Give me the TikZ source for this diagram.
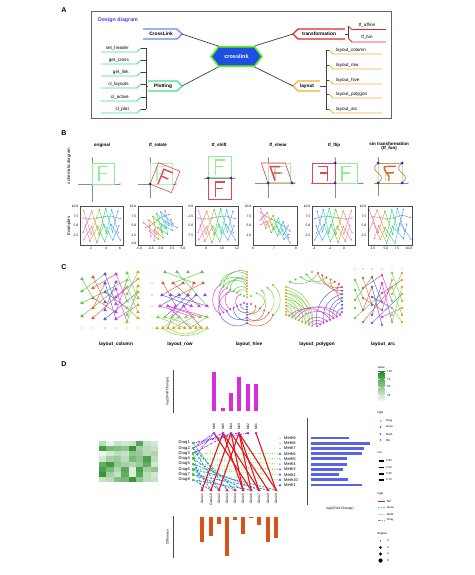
\documentclass[tikz,border=0pt]{standalone}
\usepackage{fontspec}
\setmainfont{Liberation Sans}
\usetikzlibrary{shapes.geometric,shapes.symbols,arrows.meta,calc}
\definecolor{hubblue}{HTML}{1F4FE0}
\definecolor{hubgreen}{HTML}{66EE22}
\definecolor{clblue}{HTML}{6E86F2}
\definecolor{plgreen}{HTML}{3FE08A}
\definecolor{trred}{HTML}{E3262E}
\definecolor{lyorange}{HTML}{EDB32C}
\definecolor{ddpurple}{HTML}{6236F0}
\definecolor{fgreen}{HTML}{96EC96}
\definecolor{fred}{HTML}{E2465A}
\definecolor{fsin}{HTML}{E0643A}
\definecolor{dotblue}{HTML}{2424D0}
\definecolor{eA}{HTML}{F2609E}
\definecolor{eB}{HTML}{D4902C}
\definecolor{eC}{HTML}{38C838}
\definecolor{eD}{HTML}{22C4A6}
\definecolor{eE}{HTML}{3C96F0}
\definecolor{eF}{HTML}{9C6CF0}
\definecolor{cG}{HTML}{5CC64A}
\definecolor{cO}{HTML}{D9603A}
\definecolor{cB}{HTML}{5C5CDC}
\definecolor{cM}{HTML}{D43CD8}
\definecolor{cL}{HTML}{7CD23C}
\definecolor{cY}{HTML}{DCA628}
\definecolor{hgreen}{HTML}{1E8A1E}
\definecolor{dGreen}{HTML}{3CCB3C}
\definecolor{dRed}{HTML}{E21E1E}
\definecolor{dBlue}{HTML}{4848DE}
\definecolor{dPur}{HTML}{9440F0}
\definecolor{barmag}{HTML}{D82ED8}
\definecolor{barorg}{HTML}{D8521C}
\definecolor{barblue}{HTML}{5A62E8}
\definecolor{edRed}{HTML}{E4181C}
\definecolor{edBlue}{HTML}{3A8CD8}
\definecolor{edGreen}{HTML}{6ADC30}
\definecolor{edPur}{HTML}{8A48F0}
\newcommand\FS[1]{\fontsize{#1}{#1}\selectfont}
\newcommand\Fbox[2]{\draw[#1, line width=0.6pt] (0,0) rectangle (1,1);
  \draw[#2, line width=1.4pt] (0.32,0.12) -- (0.32,0.82) -- (0.74,0.82) (0.32,0.5) -- (0.66,0.5);}
\newcommand\Tri[3]{\fill[#3] (#1,#2) +(0,-2.1) -- +(1.85,1.1) -- +(-1.85,1.1) -- cycle;}
\newcommand\PatPts[2]{%
  \foreach \ga in {1,...,6}{\foreach \kk in {1,...,5}{%
    \pgfmathsetmacro\uu{0.09+0.164*(\ga-1)+0.03*sin(\kk*131+\ga*53)}%
    \pgfmathsetmacro\vv{0.1+0.2*(\kk-1)+0.035*sin(\ga*77+\kk*29)}%
    \coordinate (P-\ga-\kk) at ({\uu+#1*sin(720*\vv)},{\vv+#2*sin(540*\uu)});%
  }}}
\newcommand\PatDraw{%
  \foreach \ga/\gb/\cc in {1/2/eA,2/3/eB,3/4/eC,4/5/eD,5/6/eE}{%
    \foreach \kk/\pp in {1/3,2/5,3/1,4/4,5/2}{\draw[\cc, line width=0.35pt] (P-\ga-\kk) -- (P-\gb-\pp);}}%
  \foreach \ga/\cc in {1/eA,2/eB,3/eC,4/eD,5/eE,6/eF}{%
    \foreach \kk in {1,...,5}{\fill[\cc] (P-\ga-\kk) circle (0.75pt);}}}
\tikzset{
  panel/.style={font=\bfseries\FS{7}, inner sep=0pt},
  conn/.style={draw=black!75, line width=0.7pt},
  thin conn/.style={draw=black!75, line width=0.5pt},
  itemtxt/.style={font=\FS{4.6}, inner sep=0pt},
  tagtxt/.style={font=\bfseries\FS{4.8}, inner sep=0pt},
  ttl/.style={font=\bfseries\FS{4.5}, inner sep=0pt, align=center},
  ax/.style={black!45, line width=0.4pt, -{Stealth[length=1.6pt,width=1.4pt]}},
  tick/.style={font=\FS{3.3}, inner sep=0.5pt},
  pbox/.style={draw=black!70, line width=0.6pt},
  clab/.style={font=\bfseries\FS{4.8}, inner sep=0pt},
  dlab/.style={font=\FS{4.1}, inner sep=0pt},
  glab/.style={font=\FS{3.3}, inner sep=0pt},
  leg/.style={font=\FS{2.8}, inner sep=0pt, anchor=west},
  legt/.style={font=\FS{3}, inner sep=0pt, anchor=west},
}
\begin{document}
\begin{tikzpicture}[x=1pt,y=-1pt]
\useasboundingbox (0,0) rectangle (474,575);
\fill[white] (0,0) rectangle (474,575);
% ================= Panel A =================
\node[panel] (labA) at (64,10) {A};
\node[draw=black!60, line width=0.7pt, minimum width=300pt, minimum height=107pt, inner sep=0pt] (frameA) at (241.5,65) {};
\node[font=\bfseries\FS{5.3}, text=ddpurple, anchor=west, inner sep=0pt] (dd) at (98,20) {Design diagram};
\node[signal, signal to=east and west, signal pointer angle=105, fill=hubblue, draw=hubgreen, line width=1.6pt,
  minimum width=51pt, minimum height=19.5pt, text=white, font=\bfseries\FS{5.5}, inner sep=0pt] (hub) at (236.5,56.5) {crosslink};
\node[tagtxt] (tCL) at (161,34) {CrossLink};
\draw[clblue, line width=1.1pt] (143,29) -- (177,29) -- (182,34) -- (177,39) -- (143,39);
\coordinate (clTip) at (182,34);
\node[tagtxt] (tPL) at (163,86) {Plotting};
\draw[plgreen, line width=1.1pt] (148,81) -- (177,81) -- (182,86) -- (177,91) -- (148,91);
\coordinate (plTip) at (182,86);
\coordinate (plTail) at (148,86);
\node[tagtxt] (tTR) at (319,34) {transformation};
\draw[trred, line width=1.1pt] (345,29) -- (298,29) -- (293,34) -- (298,39) -- (345,39);
\coordinate (trTip) at (293,34);
\coordinate (trTail) at (345,34);
\node[tagtxt] (tLY) at (307,86) {layout};
\draw[lyorange, line width=1.1pt] (320,81) -- (298,81) -- (293,86) -- (298,91) -- (320,91);
\coordinate (lyTip) at (293,86);
\coordinate (lyTail) at (320,86);
\draw[conn] (clTip) -- (hub.150);
\draw[conn] (trTip) -- (hub.30);
\draw[conn] (plTip) -- (hub.210);
\draw[conn] (lyTip) -- (hub.330);
\foreach \t/\y [count=\i] in {set\_header/48,get\_cross/60,get\_link/72,cl\_layouts/84,cl\_active/97,cl\_plot/109}{
  \node[itemtxt, anchor=east] (pi\i) at (129,\y) {\t};
  \draw[plgreen, line width=0.8pt] (101,\y+4) -- (137,\y+4) -- (141,\y);
  \draw[thin conn] (141,\y) -- (146,\y);
}
\draw[thin conn] (146,48) -- (146,109);
\draw[thin conn] (146,86) -- (plTail);
\foreach \t/\y [count=\i] in {layout\_column/50,layout\_row/65,layout\_hive/80,layout\_polygon/94,layout\_arc/109}{
  \node[itemtxt, anchor=west] (li\i) at (336,\y) {\t};
  \draw[lyorange, line width=0.8pt] (329,\y) -- (333,\y+4) -- (382,\y+4);
  \draw[thin conn] (326,\y) -- (329,\y);
}
\draw[thin conn] (326,50) -- (326,109);
\draw[thin conn] (lyTail) -- (326,86);
\node[itemtxt] (tfa) at (367,25) {tf\_affine};
\node[itemtxt] (tff) at (367,37.5) {tf\_fun};
\draw[thin conn] (trTail) -- (348,34);
\draw[thin conn] (348,26) -- (348,38);
\draw[trred, line width=0.8pt] (348,26) -- (352,29.5) -- (386,29.5);
\draw[trred, line width=0.8pt] (348,38) -- (352,42) -- (386,42);
% ================= Panel B =================
\node[panel] (labB) at (64,133) {B};
\node[ttl] (t1) at (102,145) {original};
\node[ttl] (t2) at (158,145) {tf\_rotate};
\node[ttl] (t3) at (219,145) {tf\_shift};
\node[ttl] (t4) at (278,145) {tf\_shear};
\node[ttl] (t5) at (334,145) {tf\_flip};
\node[ttl] (t6) at (389,146.5) {sin transformation\\(tf\_fun)};
\node[font=\FS{4.3}, rotate=90, inner sep=0pt] (sdl) at (69,166) {schematic diagram};
\node[font=\FS{4.3}, rotate=90, inner sep=0pt] (exl) at (69,226) {Examples};
% original
\draw[ax] (92,202) -- (92,157);
\draw[ax] (78,184) -- (121,184);
\begin{scope}[shift={(92,184)}, x={(22pt,0pt)}, y={(0pt,21pt)}] \Fbox{fgreen}{fgreen} \end{scope}
% rotate
\draw[ax] (150,198) -- (150,157);
\draw[ax] (138,184) -- (177,184);
\begin{scope}[shift={(150,184)}, x={(22pt,0pt)}, y={(0pt,21pt)}] \Fbox{fgreen!70}{fgreen!70} \end{scope}
\begin{scope}[shift={(150,184)}, rotate=-22, x={(23pt,0pt)}, y={(0pt,23pt)}] \Fbox{fred}{fred} \end{scope}
\fill[dotblue] (150,184) circle (1.5pt);
% shift
\begin{scope}[shift={(208,177)}, x={(23pt,0pt)}, y={(0pt,20.5pt)}] \Fbox{fgreen}{fgreen} \end{scope}
\begin{scope}[shift={(208,199)}, x={(23pt,0pt)}, y={(0pt,20.5pt)}] \Fbox{fred}{fred} \end{scope}
\draw[ax] (204,178) -- (236,178);
\fill[dotblue] (208,178) circle (1.5pt) (231,178) circle (1.5pt);
% shear
\draw[ax] (268,198) -- (268,157);
\draw[ax] (255,183) -- (296,183);
\begin{scope}[shift={(268,183)}, x={(22pt,0pt)}, y={(0pt,20pt)}] \Fbox{fgreen!80}{fgreen!80} \end{scope}
\begin{scope}[shift={(268,183)}, cm={1,0,-0.33,1,(0,0)}, x={(24pt,0pt)}, y={(0pt,20pt)}] \Fbox{fred}{fred} \end{scope}
\fill[dotblue] (268,183) circle (1.5pt) (292,183) circle (1.5pt);
% flip
\draw[ax] (335,198) -- (335,157);
\draw[ax] (311,183) -- (364,183);
\begin{scope}[shift={(335,183)}, x={(22pt,0pt)}, y={(0pt,20pt)}] \Fbox{fgreen}{fgreen} \end{scope}
\begin{scope}[shift={(335,183)}, xscale=-1, x={(23pt,0pt)}, y={(0pt,20pt)}] \Fbox{fred}{fred} \end{scope}
\fill[dotblue] (335,163) circle (1.5pt) (335,183) circle (1.5pt);
% sin
\draw[ax] (378,196) -- (378,157);
\draw[ax] (374,183) -- (409,183);
\begin{scope}[shift={(378,183)}, x={(24pt,0pt)}, y={(0pt,20pt)}]
  \draw[fgreen!80, line width=0.6pt] (0,0) rectangle (1,1);
  \draw[fgreen!80, line width=1.3pt] (0.32,0.12) -- (0.32,0.82) -- (0.74,0.82) (0.32,0.5) -- (0.66,0.5);
  \draw[fsin, line width=0.6pt] plot[domain=0:1, samples=25, smooth] ({0.14*sin(360*\x)},\x);
  \draw[fsin, line width=0.6pt] plot[domain=0:1, samples=25, smooth] ({1+0.14*sin(360*\x)},\x);
  \draw[fsin!60!fgreen, line width=0.6pt] (0,0) -- (1,0) (0,1) -- (1,1);
  \draw[fsin, line width=1.4pt] plot[domain=0.12:0.82, samples=20, smooth] ({0.36+0.1*sin(360*\x)},\x) -- (0.74,0.84);
  \draw[fsin, line width=1.4pt] (0.36,0.5) -- (0.66,0.52);
\end{scope}
\fill[dotblue] (378,163) circle (1.5pt) (402,163) circle (1.5pt) (378,183) circle (1.5pt) (402,183) circle (1.5pt);
% examples
\begin{scope}[shift={(80,245)}, x={(43pt,0pt)}, y={(0pt,39pt)}] \PatPts{0}{0} \end{scope}
\PatDraw
\begin{scope}[shift={(160,225.5)}, rotate=30, scale=0.72, x={(43pt,0pt)}, y={(0pt,39pt)}, shift={(-0.5,-0.5)}] \PatPts{0}{0} \end{scope}
\PatDraw
\begin{scope}[shift={(195,245)}, x={(43pt,0pt)}, y={(0pt,39pt)}] \PatPts{0}{0} \end{scope}
\PatDraw
\begin{scope}[shift={(275,225.5)}, cm={0.8,-0.5,0,0.55,(0,0)}, x={(43pt,0pt)}, y={(0pt,39pt)}, shift={(-0.5,-0.5)}] \PatPts{0}{0} \end{scope}
\PatDraw
\begin{scope}[shift={(333.5,225.5)}, xscale=-1, x={(43pt,0pt)}, y={(0pt,39pt)}, shift={(-0.5,-0.5)}] \PatPts{0}{0} \end{scope}
\PatDraw
\begin{scope}[shift={(368,245)}, x={(43pt,0pt)}, y={(0pt,39pt)}] \PatPts{0.06}{0.05} \end{scope}
\PatDraw
\foreach \xl/\xr in {80/123,138/182,195/238,253/297,312/355,368/412}{\draw[pbox] (\xl,206) rectangle (\xr,245);}
\foreach \xb/\labs [count=\n] in {79/{10.0/206.5,7.5/216,5.0/225.5,2.5/235},137/{10.0/206.5,7.5/216,5.0/225.5,2.5/235,0.0/243.5},194/{0.0/206.5,-2.5/216,-5.0/225.5,-7.5/235},252/{10.0/206.5,7.5/216,5.0/225.5,2.5/235},311/{10.0/206.5,7.5/216,5.0/225.5,2.5/235},367/{10.0/206.5,7.5/216,5.0/225.5,2.5/235}}{
  \foreach \lab/\yy [count=\m] in \labs {\node[tick, anchor=east] (yt-\n-\m) at (\xb,\yy) {\lab};}}
\foreach \lab/\xx [count=\m] in {2/91,4/106,6/120,-5.0/139,-2.5/151,0.0/161,2.5/172,5.0/183,8/206,10/222,12/237,6/253,7/274,8/296,-4/314,-2/330,0/344,2.5/373,5.0/386,7.5/397,10.0/409}{
  \node[tick, anchor=north] (xt-\m) at (\xx,246.5) {\lab};}
% ================= Panel C =================
\node[panel] (labC) at (64,267) {C};
% layout_column
\foreach \xa/\ya/\xb/\yb/\cc in {82/279/93/298/cG,82/291/105/274/cG,82/316/116/289/cG,82/303/127/280/cG,
 93/277/105/302/cO,93/288/116/274/cO,93/308/105/283/cO,93/318/127/287/cO,93/298/116/312/cO,
 105/274/116/304/cB,105/292/127/308/cB,105/310/116/282/cB,105/319/138/292/cB,105/283/116/319/cB,
 116/274/127/301/cM,116/297/138/279/cM,116/312/127/280/cM,116/319/138/305/cM,116/289/127/322/cM,
 127/273/138/298/cL,127/294/138/272/cL,127/308/138/318/cL,127/322/138/286/cL,127/287/138/312/cL,127/315/138/292/cL}{
 \draw[\cc, line width=0.45pt] (\xa,\ya) -- (\xb,\yb);}
\foreach \yy in {279,291,303,316}{\Tri{82}{\yy}{cG}}
\foreach \yy in {277,288,298,308,318}{\Tri{93}{\yy}{cO}}
\foreach \yy in {274,283,292,302,310,319}{\Tri{105}{\yy}{cB}}
\foreach \yy in {274,282,289,297,304,312,319}{\Tri{116}{\yy}{cM}}
\foreach \yy in {273,280,287,294,301,308,315,322}{\Tri{127}{\yy}{cL}}
\foreach \yy in {272,279,286,292,298,305,312,318}{\Tri{138}{\yy}{cY}}
\foreach \xx/\cc in {82/cG,93/cO,105/cB,116/cM,127/cL,138/cY}{\fill[\cc] (\xx,328) circle (0.6pt);}
% layout_row
\foreach \xa/\ya/\xb/\yb/\cc in {165/272/194/283/cG,202/272/173/283/cG,177/272/207/306/cG,
 163/283/175.7/306/cO,173/283/199/306/cO,183/283/162/295/cO,194/283/188/295/cO,203/283/179/295/cO,
 162/295/191.3/306/cB,170.6/295/207/306/cB,179/295/160/306/cB,188/295/165/317/cB,196/295/172/317/cB,
 167.8/306/207/317/cM,167.8/306/200/317/cM,167.8/306/190.3/328/cM,175.7/306/168/328/cM,183.5/306/201.4/328/cM,160/306/193/317/cM,
 158/317/184.8/328/cL,165/317/201.4/328/cL,179/317/162.6/328/cL,193/317/173.7/328/cL,207/317/190.3/328/cL}{
 \draw[\cc, line width=0.45pt] (\xa,\ya) -- (\xb,\yb);}
\draw[cL, line width=0.45pt] (162.6,328) .. controls (175,338) and (195,338) .. (207,328);
\draw[cL, line width=0.45pt] (168,328) .. controls (180,336) and (190,336) .. (201.4,328);
\foreach \xx in {165,177,188,202}{\Tri{\xx}{272}{cG}}
\foreach \xx in {163,173,183,194,203}{\Tri{\xx}{283}{cO}}
\foreach \xx in {162,170.6,179,188,196,205}{\Tri{\xx}{295}{cB}}
\foreach \xx in {160,167.8,175.7,183.5,191.3,199,207}{\Tri{\xx}{306}{cM}}
\foreach \xx in {158,165,172,179,186,193,200,207}{\Tri{\xx}{317}{cL}}
\foreach \xx in {157,162.6,168,173.7,179.2,184.8,190.3,195.9,201.4,207}{\Tri{\xx}{328}{cY}}
\foreach \yy/\cc in {272/cG,283/cO,295/cB,306/cM,317/cL,328/cY}{\fill[\cc] (152,\yy) circle (0.6pt);}
% layout_hive
\foreach \i in {0,...,9}{\coordinate (hy\i) at (247,{272+2.8*\i});}
\foreach \i in {0,...,7}{\coordinate (hgl\i) at ({220+24*\i/7},{285+11*\i/7});
  \coordinate (hm\i) at ({220+24*\i/7},{314-11*\i/7});
  \coordinate (hb\i) at (247,{304+2.7*\i});}
\foreach \i in {0,...,5}{\coordinate (ho\i) at ({251+4.4*\i},{304+2.2*\i});}
\foreach \i in {0,...,4}{\coordinate (hgr\i) at ({251+5.5*\i},{296-2.75*\i});}
\foreach \a/\b in {0/1,1/0,2/3,3/2,1/5,0/4,4/6,5/7}{\draw[cG, line width=0.45pt] (hgl\a) to[bend left=60] (hy\b);}
\foreach \a/\b in {0/0,1/2,2/1,3/3,0/4,5/6}{\draw[cM, line width=0.45pt] (hm\a) to[bend left=60] (hgl\b);}
\foreach \a/\b in {7/0,5/2,6/4,3/5,2/6}{\draw[cB, line width=0.45pt] (hb\a) to[bend left=55] (hm\b);}
\foreach \a/\b in {5/7,4/5,3/6,2/3,1/4}{\draw[cO, line width=0.45pt] (ho\a) to[bend left=55] (hb\b);}
\foreach \a/\b in {4/5,3/4,2/2,1/3}{\draw[cL, line width=0.45pt] (hgr\a) to[bend left=55] (ho\b);}
\foreach \i in {0,...,9}{\fill[cY] (hy\i) circle (1.1pt);}
\foreach \i in {0,...,7}{\fill[cG] (hgl\i) circle (1.1pt); \fill[cM] (hm\i) circle (1.1pt); \fill[cB] (hb\i) circle (1.1pt);}
\foreach \i in {0,...,5}{\fill[cO] (ho\i) circle (1.1pt);}
\foreach \i in {0,...,4}{\fill[cL] (hgr\i) circle (1.1pt);}
% layout_polygon
\foreach \i in {0,...,9}{\coordinate (py\i) at (286,{287+3.1*\i});}
\foreach \i in {0,...,7}{\coordinate (pgb\i) at ({289+3.29*\i},{316+1.43*\i});
  \coordinate (pm\i) at ({317+3.29*\i},{326-1.57*\i});
  \coordinate (pb\i) at (342,{312-3.57*\i});}
\foreach \i in {0,...,5}{\coordinate (pr\i) at ({339-4.2*\i},{284-2.2*\i});}
\foreach \i in {0,...,4}{\coordinate (pgt\i) at ({312-5.5*\i},{272+2.5*\i});}
\foreach \a/\b in {0/7,1/6,2/5,3/4,4/3,5/2,6/1,7/0,2/7,4/6,6/5,8/2,9/1}{\draw[cL, line width=0.45pt] (py\a) to[bend left=45] (pgb\b);}
\foreach \a/\b in {0/4,1/6,2/7,3/5,5/3,6/2,7/1}{\draw[cM, line width=0.45pt] (pgb\a) to[bend left=50] (pm\b);}
\foreach \a/\b in {0/7,2/5,4/4,5/3,6/1,7/0}{\draw[cB, line width=0.45pt] (pm\a) to[bend left=45] (pb\b);}
\foreach \a/\b in {3/0,5/2,6/4,7/5}{\draw[cO, line width=0.45pt] (pb\a) to[bend left=45] (pr\b);}
\foreach \a/\b in {1/1,2/3,4/5}{\draw[cG, line width=0.45pt] (pgt\a) to[bend right=40] (pr\b);}
\foreach \i in {0,...,9}{\fill[cY] (py\i) circle (1.2pt);}
\foreach \i in {0,...,7}{\fill[cL] (pgb\i) circle (1.2pt); \fill[cM] (pm\i) circle (1.2pt); \fill[cB] (pb\i) circle (1.2pt);}
\foreach \i in {0,...,5}{\fill[cO] (pr\i) circle (1.2pt);}
\foreach \i in {0,...,4}{\fill[cG] (pgt\i) circle (1.2pt);}
% layout_arc
\foreach \xa/\ya/\xb/\yb/\cc in {355/280/363/298/cG,355/300/372/277/cG,355/318/382/293/cG,355/290/363/310/cG,
 363/278/372/305/cO,363/288/382/275/cO,363/310/372/287/cO,363/322/392/287/cO,363/298/382/310/cO,
 372/277/382/302/cB,372/297/392/308/cB,372/315/382/283/cB,372/323/402/294/cB,372/287/382/325/cB,
 382/275/392/301/cM,382/293/402/280/cM,382/310/392/280/cM,382/317/402/308/cM,382/283/392/322/cM,
 392/273/402/301/cL,392/294/402/273/cL,392/308/402/322/cL,392/322/402/287/cL,392/287/402/315/cL}{
 \draw[\cc, line width=0.45pt] (\xa,\ya) -- (\xb,\yb);}
\foreach \yy in {280,290,300,308,318}{\fill[cG] (355,\yy) circle (1.3pt);}
\foreach \yy in {278,288,298,310,322}{\fill[cO] (363,\yy) circle (1.3pt);}
\foreach \yy in {277,287,297,305,315,323}{\fill[cB] (372,\yy) circle (1.3pt);}
\foreach \yy in {275,283,293,302,310,317,325}{\fill[cM] (382,\yy) circle (1.3pt);}
\foreach \yy in {273,280,287,294,301,308,315,322}{\fill[cL] (392,\yy) circle (1.3pt);}
\foreach \yy in {273,280,287,294,301,308,315,322}{\fill[cY] (402,\yy) circle (1.3pt);}
\foreach \xx/\cc in {355/cG,363/cO,372/cB,382/cM,392/cL,402/cY}{\fill[\cc] (\xx,269) circle (0.6pt);}
\node[clab] (c1) at (116,344) {layout\_column};
\node[clab] (c2) at (180,344) {layout\_row};
\node[clab] (c3) at (249,344) {layout\_hive};
\node[clab] (c4) at (317,344) {layout\_polygon};
\node[clab] (c5) at (383,344) {layout\_arc};
% ================= Panel D =================
\node[panel] (labD) at (64,364) {D};
% heatmap
\foreach \row [count=\r] in {{30,10,25,20,25,75,25,20},{85,60,55,50,90,40,30,25},{8,20,30,25,50,45,30,35},{20,40,45,30,60,50,80,30},{70,85,50,40,35,45,70,20},{80,60,35,75,15,80,40,50},{90,40,25,70,15,75,30,20},{25,30,55,60,90,50,30,25}}{
  \foreach \val [count=\cc] in \row {\fill[hgreen!\val!white] ({99+7.4*(\cc-1)},{441+5.15*(\r-1)}) rectangle ++(7.4,5.15);}}
% axes
\draw[black!70, line width=0.5pt] (173,370) -- (173,413);
\node[glab, rotate=90] (ylab1) at (167.5,391.5) {log2(Fold Change)};
\draw[black!70, line width=0.5pt] (173,516) -- (173,558);
\node[glab, rotate=90] (ylab2) at (167.5,537) {Difference};
\draw[black!70, line width=0.5pt] (307,418) -- (307,505);
\node[glab] (xlab3) at (340,508.5) {log2(Fold Change)};
% bars
\foreach \xx/\tp in {214/372,223/408,231/393,239/377,248/384,256/384}{\fill[barmag] (\xx-2,411) rectangle (\xx+2,\tp);}
\foreach \xx/\bt in {202/542,211/536,219/524,227/556,235/520,243/534,251/518,259/525,268/542,276/538}{\fill[barorg] (\xx-2,517) rectangle (\xx+2,\bt);}
% coordinates
\foreach \i in {1,...,8}{\coordinate (dr\i) at (193,{443+5.25*(\i-1)});}
\foreach \nm/\xx in {6/214,5/223,4/231,3/239,2/248,1/256}{\coordinate (mir\nm) at (\xx,433);}
\foreach \xx [count=\i] in {202,211,219,227,235,243,251,259,268,276}{\coordinate (gp\i) at (\xx,490);}
\foreach \i in {1,...,10}{\coordinate (mt\i) at (280,{438+5.22*(\i-1)});}
% edges
\foreach \a/\b in {1/4,2/3,3/1,4/6,5/8,6/10,7/5,8/7,6/3,7/9,5/2,8/2,2/5}{\draw[edBlue, line width=0.8pt, dash pattern=on 2.2pt off 1.2pt] (dr\a) -- (gp\b);}
\foreach \a/\b in {3/4,4/5,5/7,6/8,7/9,4/6,6/7}{\draw[edGreen, line width=0.8pt, dash pattern=on 0.8pt off 1.6pt] (dr\a) -- (mt\b);}
\foreach \a/\b in {1/2,2/5,3/4,4/6,1/3,2/6}{\draw[edPur, line width=0.8pt, dash pattern=on 2.2pt off 1pt on 0.6pt off 1pt] (dr\a) -- (mir\b);}
\foreach \a/\b in {5/1,4/2,3/3,5/6,4/6,3/7,5/8,4/9,3/10,1/10,6/7,3/8}{\draw[edRed, line width=1.1pt] (mir\a) -- (gp\b);}
% markers
\foreach \i/\s in {1/1.3,2/1.1,3/1.3,4/1.5,5/1.3,6/1.5,7/1.3,8/1.1}{\fill[dGreen] ($(dr\i)+(-\s,-\s)$) rectangle ($(dr\i)+(\s,\s)$);}
\foreach \i in {1,...,6}{\fill[dPur] (mir\i) circle (1.5pt);}
\foreach \i in {1,...,10}{\fill[dRed] (gp\i) +(0,-1.8) -- +(1.6,1) -- +(-1.6,1) -- cycle;}
\foreach \i/\s in {1/0.6,2/0.6,3/0.6,4/1.3,5/0.6,6/0.6,7/1.0,8/1.3,9/1.3,10/1.3}{\fill[dBlue] (mt\i) +(0,-\s) -- +(\s,0.7*\s) -- +(-\s,0.7*\s) -- cycle;}
% labels
\foreach \i in {1,...,8}{\node[dlab, anchor=east] (drl\i) at (190,{443+5.25*(\i-1)}) {Drug\i};}
\foreach \nm/\xx in {6/214,5/223,4/231,3/239,2/248,1/256}{\node[glab, rotate=90, anchor=west] (mirl\nm) at (\xx,430) {Mir\nm};}
\foreach \nm/\xx in {1/202,10/211,2/219,3/227,4/235,5/243,6/251,7/259,8/268,9/276}{\node[glab, rotate=90, anchor=east] (genl\nm) at (\xx,493.5) {Gene\nm};}
\foreach \nm [count=\i] in {9,8,7,6,5,4,3,2,10,1}{\node[dlab, anchor=west] (mtl\i) at (284,{438+5.22*(\i-1)}) {Meth\nm};}
\foreach \ee [count=\i] in {349,370,364,362,347,347,343,339,348,362}{\fill[barblue] (311,{438+5.22*(\i-1)-1.4}) rectangle (\ee,{438+5.22*(\i-1)+1.4});}
% legends
\node[legt] (lv) at (377.5,367) {value};
\shade[top color=hgreen, bottom color=white] (378,371) rectangle (385,402);
\foreach \lab/\yy [count=\i] in {100/372,75/379.5,50/387,25/395.5}{\node[leg] (lvl\i) at (387,\yy) {\lab}; \draw[white, line width=0.3pt] (378,\yy) -- (379.5,\yy) (383.5,\yy) -- (385,\yy);}
\node[legt] (lt1) at (377.5,413) {type};
\foreach \lab/\yy/\cc [count=\i] in {Drug/421/dGreen,Gene/427/dRed,Meth/434/dBlue,Mir/440/dPur}{\fill[\cc] (380.5,\yy) circle (0.8pt); \node[leg] (lt1\i) at (386,\yy) {\lab};}
\node[legt] (lc) at (377.5,453) {cor};
\foreach \lab/\yy [count=\i] in {0.30/461,0.20/467.5,0.60/474,0.70/480}{\draw[black, line width=1.2pt] (378.5,\yy) -- (384,\yy); \node[leg] (lc\i) at (386,\yy) {\lab};}
\node[legt] (lt2) at (377.5,494) {type};
\draw[edRed, line width=0.6pt] (378,501) -- (385,501); \node[leg] (lt21) at (387,501) {Mir};
\draw[edBlue!70, line width=0.6pt, dash pattern=on 1.5pt off 1pt] (378,507.5) -- (385,507.5); \node[leg] (lt22) at (387,507.5) {Gene};
\draw[black!15, line width=0.6pt] (378,514) -- (385,514); \node[leg] (lt23) at (387,514) {Meth};
\draw[edPur!70, line width=0.6pt, dash pattern=on 1.5pt off 0.8pt on 0.5pt off 0.8pt] (378,520) -- (385,520); \node[leg] (lt24) at (387,520) {Drug};
\node[legt] (ldg) at (377.5,534) {degree};
\foreach \lab/\yy/\rr [count=\i] in {0/541/0.7,2/547.5/1.3,4/554/1.7,6/560.5/2.1}{\fill[black] (380.5,\yy) circle (\rr pt); \node[leg] (ldg\i) at (387,\yy) {\lab};}
\end{tikzpicture}
\end{document}
